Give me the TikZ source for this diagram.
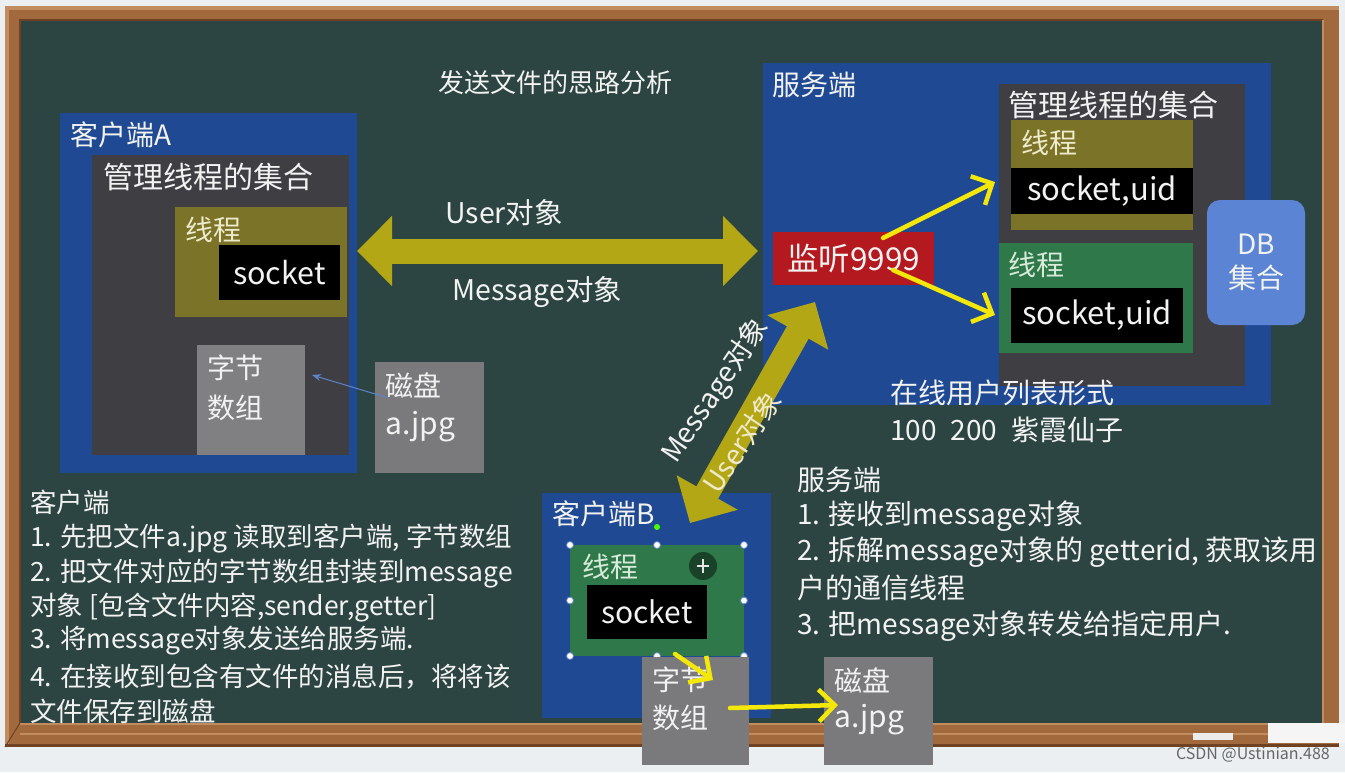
\documentclass[tikz,border=0pt]{standalone}
\usepackage{fontspec}
\setmainfont{Noto Sans CJK SC}
\usetikzlibrary{arrows.meta}
\definecolor{bgl}{HTML}{ECEFF1}
\definecolor{wood}{HTML}{A2693D}
\definecolor{woodd}{HTML}{6E4222}
\definecolor{woodl}{HTML}{C18D5E}
\definecolor{board}{HTML}{2D4542}
\definecolor{cblue}{HTML}{1F4A93}
\definecolor{cdark}{HTML}{3E3E43}
\definecolor{colive}{HTML}{7B7327}
\definecolor{carrow}{HTML}{B4A715}
\definecolor{cyel}{HTML}{F4E80A}
\definecolor{cgray}{HTML}{808083}
\definecolor{cred}{HTML}{B3191E}
\definecolor{cgreen}{HTML}{2E7849}
\definecolor{cdb}{HTML}{5B85D4}
\definecolor{txt}{HTML}{F2F2F2}
\definecolor{txto}{HTML}{EEEACB}
\definecolor{txtg}{HTML}{D6EBD8}
\definecolor{thinb}{HTML}{5F82C9}
\newcommand\myfs[1]{\fontsize{#1}{#1}\selectfont}
\begin{document}
\begin{tikzpicture}[x=1pt,y=-1pt,
  blk/.style={inner sep=0pt,outer sep=0pt,draw=none,anchor=north west},
  lbl/.style={inner sep=0pt,anchor=west,text=txt,font=\myfs{28}},
  para/.style={inner sep=0pt,anchor=west,text=txt,font=\myfs{26.5}},
  rpara/.style={inner sep=0pt,anchor=west,text=txt,font=\myfs{28}},
  bigarrow/.style={line width=25pt,draw=carrow,{Triangle[length=35pt,width=68pt]}-{Triangle[length=35pt,width=68pt]}},
  yarrow/.style={line width=4.5pt,draw=cyel,line cap=round,-{Straight Barb[length=16pt,width=32pt,line width=4.5pt]}},
  handle/.style={circle,fill=white,draw=thinb,line width=0.8pt,inner sep=0pt,minimum size=7pt}]
\useasboundingbox (0,0) rectangle (1345,772);
% background and blackboard
\fill[bgl] (0,0) rectangle (1345,772);
\fill[wood] (5,6) rectangle (1339,747);
\fill[woodl] (5,6) rectangle (1339,10);
\fill[woodl] (5,6) rectangle (9,747);
\fill[woodd] (5,744) rectangle (1339,747);
\fill[board] (20,20) rectangle (1323,723);
\draw[woodd,line width=2pt] (20,723) -- (20,20) -- (1323,20);
\draw[woodl,line width=1.5pt] (20,724) -- (1323,724) -- (1323,20);
\draw[woodd,line width=1pt] (5,747) -- (20,723);
\fill[woodl] (20,733) rectangle (1339,735);
\fill[white!92!gray] (1268,723) rectangle (1345,743);
\fill[white!85!gray] (1193,733) rectangle (1233,740);

% title
\node[lbl,anchor=center,font=\myfs{26}] (title) at (555,83) {发送文件的思路分析};

% client A
\node[blk,fill=cblue,minimum width=297pt,minimum height=360pt] (ca) at (60,113) {};
\node[lbl] (calbl) at (70,135) {客户端A};
\node[blk,fill=cdark,minimum width=257pt,minimum height=300pt] (cam) at (92,155) {};
\node[lbl,font=\myfs{30}] (camlbl) at (103,177) {管理线程的集合};
\node[blk,fill=colive,minimum width=172pt,minimum height=110pt] (cat) at (175,207) {};
\node[lbl,text=txto] (catlbl) at (185,230) {线程};
\node[blk,fill=black,minimum width=121pt,minimum height=55pt,text=txt,font=\myfs{30.5}] (cas) at (219,245) {socket};
\node[blk,fill=cgray,minimum width=108pt,minimum height=110pt] (cab) at (197,345) {};
\node[lbl] (cab1) at (207,368) {字节};
\node[lbl] (cab2) at (207,408) {数组};
\node[blk,fill=cgray!95!black,minimum width=109pt,minimum height=111pt] (cad) at (375,362) {};
\node[lbl] (cad1) at (385,385) {磁盘};
\node[lbl,font=\myfs{30}] (cad2) at (385,427) {a.jpg};
\draw[thinb,line width=1pt,-{Stealth[length=9pt,width=7pt]}] ([shift={(12,-20)}]cad.west) -- ([shift={(7,-25)}]cab.east);

% server
\node[blk,fill=cblue,minimum width=508pt,minimum height=342pt] (sv) at (763,63) {};
\node[lbl] (svlbl) at (772,85) {服务端};
\node[blk,fill=cdark,minimum width=246pt,minimum height=302pt] (svm) at (999,84) {};
\node[lbl,font=\myfs{30}] (svmlbl) at (1008,105) {管理线程的集合};
\node[blk,fill=colive,minimum width=182pt,minimum height=110pt] (st1) at (1011,120) {};
\node[lbl,text=txto] (st1lbl) at (1021,143) {线程};
\node[blk,fill=black,minimum width=182pt,minimum height=46pt,text=txt,font=\myfs{31}] (ss1) at (1011,168) {socket,uid};
\node[blk,fill=cgreen,minimum width=194pt,minimum height=110pt] (st2) at (999,243) {};
\node[lbl,text=txtg] (st2lbl) at (1008,265) {线程};
\node[blk,fill=black,minimum width=172pt,minimum height=55pt,text=txt,font=\myfs{31}] (ss2) at (1011,288) {socket,uid};
\node[blk,fill=cdb,rounded corners=13pt,minimum width=98pt,minimum height=125pt,text=txt,font=\myfs{28},align=center] (db) at (1207,200) {DB\\[6pt]集合};
\node[blk,fill=cred,minimum width=161pt,minimum height=53pt,text=txt,font=\myfs{31.5}] (lis) at (773,232) {监听9999};
\coordinate (y1s) at ([shift={(110,6)}]lis.north west);
\coordinate (y1e) at ([shift={(-4,-9)}]svm.west |- ss1.west);
\coordinate (y2s) at ([shift={(120,38)}]lis.north west);
\coordinate (y2e) at ([shift={(-4,17)}]svm.west |- st2.west);
\draw[yarrow] (y1s) -- (y1e);
\draw[yarrow] (y2s) -- (y2e);
\node[lbl] (ol1) at (890,393) {在线用户列表形式};
\node[lbl] (ol2) at (890,430) {100\hspace{14pt}200\hspace{14pt}紫霞仙子};

% A <-> server arrow
\coordinate (hl) at (0,251);
\draw[bigarrow] (ca.east |- hl) -- ([xshift=-5pt]sv.west |- hl);
\node[lbl,font=\myfs{28.5}] (u1) at (445,213) {User对象};
\node[lbl,font=\myfs{28.5}] (m1) at (452,292) {Message对象};

% client B
\node[blk,fill=cblue,minimum width=229pt,minimum height=225pt] (cb) at (542,493) {};
\node[lbl] (cblbl) at (552,514) {客户端B};
\node[blk,fill=cgreen,minimum width=174pt,minimum height=111pt] (cbt) at (570,545) {};
\node[lbl,text=txtg] (cbtlbl) at (582,567) {线程};
\node[blk,fill=black,minimum width=120pt,minimum height=54pt,text=txt,font=\myfs{30}] (cbs) at (587,585) {socket};
\node[circle,fill=cgreen!55!black,minimum size=28pt,inner sep=0pt] (mv) at (703,566) {};
\draw[white!80!gray,line width=1.2pt] ([yshift=-7pt]mv.center) -- ([yshift=7pt]mv.center) ([xshift=-6pt]mv.center) -- ([xshift=6pt]mv.center);
\foreach \p/\q in {north west/nw,north/n,north east/ne,west/w,east/e,south west/sw,south/s,south east/se}
  \node[handle] (h\q) at (cbt.\p) {};
\node[circle,fill=green!70!yellow,inner sep=0pt,minimum size=6pt] (hrot) at ([yshift=18pt]cbt.north) {};

% B <-> server arrow
\coordinate (d1) at (690,523);
\coordinate (d2) at (815,302);
\draw[bigarrow] (d1) -- (d2);
\node[lbl,anchor=center,rotate=56,font=\myfs{28}] (m2) at (716,391) {Message对象};
\node[lbl,anchor=center,rotate=56,font=\myfs{28},text=txto] (u2) at (742,442) {User对象};

% bottom boxes
\node[blk,fill=cgray!95!black,minimum width=107pt,minimum height=108pt] (cbb) at (642,657) {};
\node[lbl] (cbb1) at (652,680) {字节};
\node[lbl] (cbb2) at (652,718) {数组};
\node[blk,fill=cgray!95!black,minimum width=109pt,minimum height=108pt] (cbd) at (824,657) {};
\node[lbl] (cbd1) at (834,680) {磁盘};
\node[lbl,font=\myfs{30}] (cbd2) at (834,720) {a.jpg};
\coordinate (y3s) at ([shift={(-32,42)}]cbs.east);
\coordinate (y3e) at ([shift={(71,23)}]cbb.north west);
\draw[yarrow] (y3s) -- (y3e);
\coordinate (y4s) at ([shift={(-19,-3)}]cbb.east);
\coordinate (y4e) at ([shift={(14,-6)}]cbd.west);
\draw[yarrow] (y4s) -- (y4e);

% client text
\node[para] (l0) at (30,502) {客户端};
\node[para] (l1) at (30,539) {1. 先把文件a.jpg 读取到客户端, 字节数组};
\node[para] (l2) at (30,574) {2. 把文件对应的字节数组封装到message};
\node[para] (l3) at (30,608) {对象 [包含文件内容,sender,getter]};
\node[para] (l4) at (30,641) {3. 将message对象发送给服务端.};
\node[para] (l5) at (30,677) {4. 在接收到包含有文件的消息后，将将该};
\node[para] (l6) at (30,711) {文件保存到磁盘};

% server text
\node[rpara] (r0) at (797,480) {服务端};
\node[rpara] (r1) at (797,516) {1. 接收到message对象};
\node[rpara] (r2) at (797,552) {2. 拆解message对象的 getterid, 获取该用};
\node[rpara] (r3) at (797,588) {户的通信线程};
\node[rpara] (r4) at (797,626) {3. 把message对象转发给指定用户.};

% watermark
\node[inner sep=0pt,anchor=east,text=gray!80!black,font=\myfs{16}] (wm) at (1330,755) {CSDN @Ustinian.488};
\end{tikzpicture}
\end{document}
